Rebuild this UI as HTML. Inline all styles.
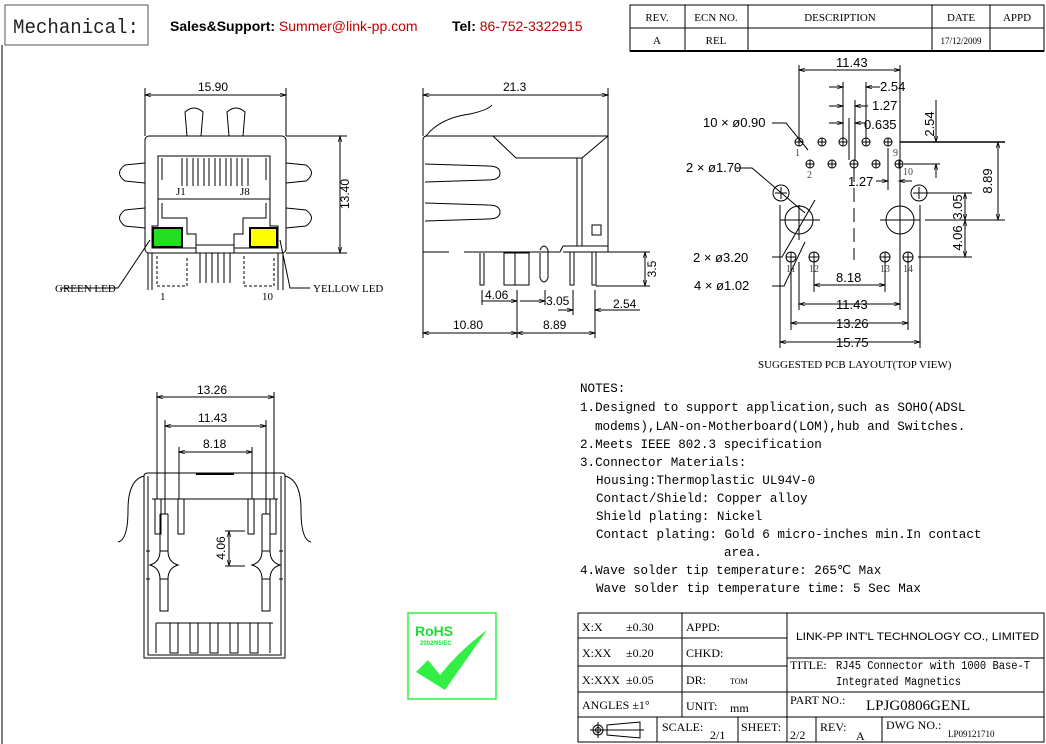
<!DOCTYPE html>
<html><head><meta charset="utf-8"><style>
body{margin:0;background:#fff;width:1046px;height:744px;overflow:hidden}
svg{display:block}
.m{font-family:"Liberation Mono",monospace}
.s{font-family:"Liberation Sans",sans-serif}
.r{font-family:"Liberation Serif",serif}
</style></head><body>
<svg width="1046" height="744" viewBox="0 0 1046 744" xmlns="http://www.w3.org/2000/svg">
<defs>
<marker id="a" viewBox="0 0 10 10" refX="10" refY="5" markerWidth="8" markerHeight="6" orient="auto-start-reverse"><path d="M0,2 L10,5 L0,8" fill="none" stroke="#000" stroke-width="1.2"/></marker>
</defs>
<g fill="none" stroke="#000" stroke-width="1">
<line x1="2" y1="45" x2="2" y2="744"/>
<rect x="5" y="5" width="143" height="40" stroke="#555"/>
<rect x="630" y="5" width="414" height="46"/>
<line x1="630" y1="28" x2="1044" y2="28"/>
<line x1="685" y1="5" x2="685" y2="51"/><line x1="748" y1="5" x2="748" y2="51"/>
<line x1="932" y1="5" x2="932" y2="51"/><line x1="990" y1="5" x2="990" y2="51"/>
<line x1="630" y1="51" x2="1044" y2="51" stroke-width="2"/>
</g>
<text x="13" y="33" class="m" font-size="20" fill="#222" textLength="126" lengthAdjust="spacingAndGlyphs">Mechanical:</text>
<text x="170" y="31" class="s" font-size="14" font-weight="bold">Sales&amp;Support: <tspan font-weight="normal" fill="#c00000">Summer@link-pp.com</tspan></text>
<text x="452" y="31" class="s" font-size="14" font-weight="bold">Tel: <tspan font-weight="normal" fill="#c00000">86-752-3322915</tspan></text>
<g class="r" font-size="11" text-anchor="middle">
<text x="657" y="21">REV.</text><text x="716" y="21">ECN NO.</text><text x="840" y="21">DESCRIPTION</text><text x="961" y="21">DATE</text><text x="1017" y="21">APPD</text>
<text x="657" y="44">A</text><text x="716" y="44">REL</text><text x="961" y="44" font-size="9">17/12/2009</text>
</g>

<!-- FRONT VIEW -->
<g fill="none" stroke="#000" stroke-width="1">
<rect x="145" y="136" width="141" height="117" rx="4"/>
<path d="M187,136 L185,112 Q194,104 203,112 L201,136"/>
<path d="M229,136 L227,112 Q236,104 245,112 L243,136"/>
<path d="M145,163 L125,165 Q114,173 125,181 L145,183"/>
<path d="M145,208 L125,210 Q114,218 125,226 L145,228"/>
<path d="M286,163 L306,165 Q317,173 306,181 L286,183"/>
<path d="M286,208 L306,210 Q317,218 306,226 L286,228"/>
<path d="M158,200 L158,156 L270,156 L270,200"/>
<line x1="158" y1="199" x2="270" y2="199"/>
<line x1="162" y1="158" x2="162" y2="180"/><line x1="266" y1="158" x2="266" y2="180"/>
<path d="M182,158 v28 M187,158 v28 M193,158 v28 M198,158 v28 M204,158 v28 M209,158 v28 M215,158 v28 M220,158 v28 M226,158 v28 M231,158 v28 M237,158 v28 M242,158 v28 M248,158 v28"/>
<path d="M158,200 L158,226 L152,226 L152,248 L196,248 L196,234 L187,234 L187,218 L162,218 L162,203"/>
<path d="M270,200 L270,226 L278,226 L278,248 L234,248 L234,234 L243,234 L243,218 L266,218 L266,203"/>
<path d="M196,248 L196,253 M234,248 L234,253 M196,245 L234,245"/>
<path d="M148,253 L148,290 M283,253 L283,290"/>
<path d="M152,253 L152,290 M278,253 L278,290"/>
<path d="M157,256 v30 h30 v-30 M244,256 v30 h30 v-30" stroke-dasharray="3,2"/>
<path d="M200,253 v30 M206,253 v30 M212,253 v30 M218,253 v30 M224,253 v30 M230,253 v30"/>
<path d="M60,288 h58 L150,240"/><path d="M310,288 h-20 L280,240"/>
<line x1="145" y1="88" x2="145" y2="136"/><line x1="286" y1="88" x2="286" y2="136"/>
<line x1="145" y1="95" x2="286" y2="95" marker-start="url(#a)" marker-end="url(#a)"/>
<line x1="286" y1="136" x2="347" y2="136"/><line x1="286" y1="253" x2="347" y2="253"/>
<line x1="340" y1="136" x2="340" y2="253" marker-start="url(#a)" marker-end="url(#a)"/>
</g>
<rect x="153" y="228" width="29" height="19" fill="#22dd22" stroke="#000" stroke-width="2"/>
<rect x="250" y="228" width="27" height="19" fill="#ffff00" stroke="#000" stroke-width="2"/>
<g class="s" font-size="12"><text x="198" y="91">15.90</text>
<text x="349" y="194" transform="rotate(-90 349 194)" text-anchor="middle">13.40</text></g>
<g class="r" font-size="11"><text x="176" y="195">J1</text><text x="240" y="195">J8</text>
<text x="55" y="292">GREEN LED</text><text x="313" y="292">YELLOW LED</text>
<text x="160" y="300">1</text><text x="262" y="300">10</text></g>

<!-- SIDE VIEW -->
<g fill="none" stroke="#000" stroke-width="1">
<path d="M423,252 L423,140 Q423,136 427,136 L608,136 L608,246 L563,246"/>
<path d="M426,136 Q440,118 470,114 Q488,110 492,105"/>
<path d="M493,136 L516,158 L582,158 L608,136"/>
<path d="M577,158 L577,246 M582,158 L582,246"/>
<rect x="592" y="225" width="9" height="10"/>
<path d="M425,164 L488,166 Q500,166 500,173 Q500,180 488,180 L425,182"/>
<path d="M425,203 L488,205 Q500,205 500,212 Q500,219 488,219 L425,221"/>
<path d="M423,252 L449,252 M464,252 L560,252 L563,246"/>
<path d="M563,246 L608,246 L608,252 L563,252"/>
<path d="M480,253 v32 h4 v-32"/>
<rect x="504" y="253" width="25" height="32"/><line x1="515" y1="253" x2="515" y2="285"/>
<path d="M540,253 v25 q4,8 8,0 v-28 q-4,-8 -8,0"/>
<path d="M570,252 v33 h4 v-33 M592,252 v33 h4 v-33"/>
<line x1="423" y1="88" x2="423" y2="136"/><line x1="608" y1="88" x2="608" y2="136"/>
<line x1="423" y1="95" x2="608" y2="95" marker-start="url(#a)" marker-end="url(#a)"/>
<line x1="608" y1="252" x2="650" y2="252"/><line x1="596" y1="286" x2="650" y2="286"/>
<line x1="645" y1="252" x2="645" y2="286" marker-start="url(#a)" marker-end="url(#a)"/>
<line x1="482" y1="290" x2="482" y2="305"/><line x1="517" y1="290" x2="517" y2="338"/>
<line x1="545" y1="290" x2="545" y2="305"/><line x1="573" y1="290" x2="573" y2="315"/><line x1="595" y1="290" x2="595" y2="338"/>
<line x1="482" y1="301" x2="517" y2="301" marker-end="url(#a)"/>
<line x1="520" y1="301" x2="545" y2="301" marker-end="url(#a)"/>
<line x1="558" y1="310" x2="573" y2="310" marker-end="url(#a)"/>
<line x1="640" y1="310" x2="595" y2="310" marker-end="url(#a)"/>
<line x1="423" y1="252" x2="423" y2="338"/>
<line x1="423" y1="333" x2="517" y2="333" marker-start="url(#a)" marker-end="url(#a)"/>
<line x1="517" y1="333" x2="595" y2="333" marker-start="url(#a)" marker-end="url(#a)"/>
</g>
<g class="s" font-size="12"><text x="503" y="91">21.3</text>
<text x="656" y="269" transform="rotate(-90 656 269)" text-anchor="middle">3.5</text>
<text x="485" y="299">4.06</text><text x="546" y="305">3.05</text><text x="613" y="308">2.54</text>
<text x="453" y="329">10.80</text><text x="543" y="329">8.89</text></g>

<!-- PCB LAYOUT -->
<g fill="none" stroke="#000" stroke-width="1">
<circle cx="799" cy="142" r="4"/><circle cx="822" cy="142" r="4"/><circle cx="843" cy="142" r="4"/><circle cx="866" cy="142" r="4"/><circle cx="888" cy="142" r="4"/>
<circle cx="810" cy="164" r="4"/><circle cx="832" cy="164" r="4"/><circle cx="854" cy="164" r="4"/><circle cx="876" cy="164" r="4"/><circle cx="899" cy="164" r="4"/>
<circle cx="791" cy="257" r="5"/><circle cx="814" cy="257" r="5"/><circle cx="885" cy="257" r="5"/><circle cx="908" cy="257" r="5"/>
<circle cx="781" cy="193" r="8"/><circle cx="919" cy="193" r="8"/>
<circle cx="799" cy="220" r="14"/><circle cx="900" cy="220" r="14"/>
<path d="M795,142h8M799,138v8M818,142h8M822,138v8M839,142h8M843,138v8M862,142h8M866,138v8M884,142h8M888,138v8M806,164h8M810,160v8M828,164h8M832,160v8M850,164h8M854,160v8M872,164h8M876,160v8M895,164h8M899,160v8M786,257h10M791,252v10M809,257h10M814,252v10M880,257h10M885,252v10M903,257h10M908,252v10"/>
<path d="M775,193h12M781,187v12M913,193h12M919,187v12"/>
<path d="M780,220h40M799,205v35M880,220h40M900,200v40"/>
<line x1="799" y1="65" x2="799" y2="138"/><line x1="900" y1="65" x2="900" y2="210"/>
<line x1="799" y1="70" x2="900" y2="70" marker-start="url(#a)" marker-end="url(#a)"/>
<line x1="843" y1="82" x2="843" y2="138"/><line x1="866" y1="82" x2="866" y2="138"/>
<line x1="829" y1="87" x2="843" y2="87" marker-end="url(#a)"/><line x1="880" y1="87" x2="866" y2="87" marker-end="url(#a)"/>
<line x1="855" y1="100" x2="855" y2="160"/>
<line x1="829" y1="106" x2="843" y2="106" marker-end="url(#a)"/><line x1="868" y1="106" x2="855" y2="106" marker-end="url(#a)"/>
<line x1="849" y1="118" x2="849" y2="160"/>
<line x1="829" y1="123" x2="843" y2="123" marker-end="url(#a)"/><line x1="866" y1="123" x2="855" y2="123" marker-end="url(#a)"/>
<line x1="854" y1="168" x2="854" y2="260" stroke-dasharray="14,6"/>
<line x1="888" y1="148" x2="888" y2="190"/>
<line x1="876" y1="181" x2="888" y2="181" marker-end="url(#a)"/><line x1="912" y1="181" x2="899" y2="181" marker-end="url(#a)"/>
<line x1="900" y1="142" x2="1005" y2="142" stroke-width="1.5"/><line x1="904" y1="164" x2="940" y2="164"/>
<line x1="936" y1="100" x2="936" y2="142" marker-end="url(#a)"/><line x1="936" y1="178" x2="936" y2="164" marker-end="url(#a)"/>
<line x1="925" y1="193" x2="972" y2="193"/><line x1="925" y1="220" x2="1005" y2="220"/><line x1="918" y1="257" x2="972" y2="257"/>
<line x1="998" y1="142" x2="998" y2="220" marker-start="url(#a)" marker-end="url(#a)"/>
<line x1="965" y1="193" x2="965" y2="220" marker-start="url(#a)" marker-end="url(#a)"/>
<line x1="965" y1="220" x2="965" y2="257" marker-start="url(#a)" marker-end="url(#a)"/>
<path d="M772,123h14L808,150M736,168h16L805,213M772,257h10L815,200M772,286h12L805,242"/>
<line x1="780" y1="205" x2="780" y2="348"/><line x1="920" y1="205" x2="920" y2="348"/>
<line x1="791" y1="262" x2="791" y2="330"/><line x1="908" y1="262" x2="908" y2="330"/>
<line x1="799" y1="262" x2="799" y2="310"/><line x1="900" y1="230" x2="900" y2="310"/>
<line x1="814" y1="262" x2="814" y2="292"/><line x1="885" y1="262" x2="885" y2="292"/>
<line x1="814" y1="285" x2="885" y2="285" marker-start="url(#a)" marker-end="url(#a)"/>
<line x1="799" y1="304" x2="900" y2="304" marker-start="url(#a)" marker-end="url(#a)"/>
<line x1="791" y1="323" x2="908" y2="323" marker-start="url(#a)" marker-end="url(#a)"/>
<line x1="780" y1="342" x2="920" y2="342" marker-start="url(#a)" marker-end="url(#a)"/>
</g>
<g class="s" font-size="13">
<text x="836" y="67">11.43</text><text x="880" y="91">2.54</text><text x="872" y="110">1.27</text><text x="864" y="129">0.635</text>
<text x="934" y="124" transform="rotate(-90 934 124)" text-anchor="middle">2.54</text>
<text x="703" y="127">10 × ø0.90</text><text x="686" y="172">2 × ø1.70</text>
<text x="848" y="186">1.27</text>
<text x="1000" y="181" transform="rotate(-90 1000 181) translate(0 -8)" text-anchor="middle">8.89</text>
<text x="962" y="207" transform="rotate(-90 962 207)" text-anchor="middle">3.05</text>
<text x="962" y="238" transform="rotate(-90 962 238)" text-anchor="middle">4.06</text>
<text x="693" y="262">2 × ø3.20</text><text x="694" y="290">4 × ø1.02</text>
<text x="836" y="282">8.18</text><text x="836" y="309">11.43</text><text x="836" y="328">13.26</text><text x="836" y="347">15.75</text>
</g>
<g class="r" font-size="10" fill="#444"><text x="795" y="156">1</text><text x="807" y="178">2</text><text x="893" y="156">9</text><text x="903" y="175">10</text>
<text x="786" y="272">11</text><text x="809" y="272">12</text><text x="880" y="272">13</text><text x="903" y="272">14</text>
<text x="758" y="368" font-size="11" fill="#000">SUGGESTED PCB LAYOUT(TOP VIEW)</text></g>

<!-- BOTTOM VIEW -->
<g fill="none" stroke="#000" stroke-width="1">
<path d="M144,658 L144,476 Q144,473 148,473 L282,473 Q285,473 285,476 L285,658 Z"/>
<path d="M148,476 V655 H281 V476"/>
<line x1="152" y1="499" x2="278" y2="499"/><line x1="196" y1="474" x2="234" y2="474" stroke-width="2"/>
<path d="M144,476 Q128,480 128,510 Q128,540 118,542 M285,476 Q301,480 301,510 Q301,540 311,542"/>
<path d="M155,499 v35 h6 v-35 M178,499 v35 h6 v-35 M248,499 v35 h6 v-35 M270,499 v35 h6 v-35"/>
<path d="M160,514 v37 M168,514 v37 M160,579 v32 h8 v-32 M160,514 h8 M262,514 v37 M270,514 v37 M262,579 v32 h8 v-32 M262,514 h8"/>
<path d="M150,565 Q160,562 160,551 L168,551 Q168,562 178,565 Q168,568 168,579 L160,579 Q160,568 150,565 Z"/>
<path d="M252,565 Q262,562 262,551 L270,551 Q270,562 280,565 Q270,568 270,579 L262,579 Q262,568 252,565 Z"/>
<path d="M146,551 h4 M146,579 h4 M283,551 h-4 M283,579 h-4"/>
<path d="M156,623 v30 M170,623 v30 h8 v-30 h12 v30 h8 v-30 h12 v30 h8 v-30 h12 v30 h8 v-30 h12 v30 h8 v-30 h12 v30"/>
<line x1="156" y1="623" x2="273" y2="623"/>
<line x1="157" y1="392" x2="157" y2="499"/><line x1="274" y1="392" x2="274" y2="499"/>
<line x1="165" y1="420" x2="165" y2="514"/><line x1="266" y1="420" x2="266" y2="514"/>
<line x1="179" y1="447" x2="179" y2="499"/><line x1="252" y1="447" x2="252" y2="499"/>
<line x1="157" y1="397" x2="274" y2="397" marker-start="url(#a)" marker-end="url(#a)"/>
<line x1="165" y1="426" x2="266" y2="426" marker-start="url(#a)" marker-end="url(#a)"/>
<line x1="179" y1="452" x2="252" y2="452" marker-start="url(#a)" marker-end="url(#a)"/>
<line x1="225" y1="531" x2="245" y2="531"/><line x1="225" y1="566" x2="245" y2="566"/>
<line x1="229" y1="531" x2="229" y2="566" marker-start="url(#a)" marker-end="url(#a)"/>
</g>
<g class="s" font-size="12"><text x="197" y="394">13.26</text><text x="198" y="422">11.43</text><text x="203" y="448">8.18</text>
<text x="225" y="548" transform="rotate(-90 225 548)" text-anchor="middle">4.06</text></g>

<!-- NOTES -->
<g class="m" font-size="12.6">
<text x="580" y="392">NOTES:</text>
<text x="580" y="411">1.Designed to support application,such as SOHO(ADSL</text>
<text x="595" y="430">modems),LAN-on-Motherboard(LOM),hub and Switches.</text>
<text x="580" y="448">2.Meets IEEE 802.3 specification</text>
<text x="580" y="466">3.Connector Materials:</text>
<text x="596" y="484">Housing:Thermoplastic UL94V-0</text>
<text x="596" y="502">Contact/Shield: Copper alloy</text>
<text x="596" y="520">Shield plating: Nickel</text>
<text x="596" y="538">Contact plating: Gold 6 micro-inches min.In contact</text>
<text x="724" y="556">area.</text>
<text x="580" y="574">4.Wave solder tip temperature: 265℃ Max</text>
<text x="596" y="592">Wave solder tip temperature time: 5 Sec Max</text>
</g>

<!-- RoHS -->
<rect x="408" y="613" width="88" height="86" fill="none" stroke="#33ee44" stroke-width="1.5"/>
<text x="415" y="636" class="s" font-size="14" font-weight="bold" fill="#22dd33">RoHS</text>
<text x="420" y="645" class="s" font-size="6" font-weight="bold" fill="#22dd33">2002/95/EC</text>
<path d="M416,672 L428,660 L440,675 Q460,650 487,630 Q466,660 445,690 Z" fill="#33ee44"/>

<!-- TITLE BLOCK -->
<g fill="none" stroke="#000" stroke-width="1">
<rect x="578" y="613" width="466" height="129"/>
<line x1="578" y1="638" x2="787" y2="638"/><line x1="578" y1="666" x2="787" y2="666"/>
<line x1="787" y1="658" x2="1044" y2="658"/>
<line x1="578" y1="692" x2="1044" y2="692"/><line x1="578" y1="717" x2="1044" y2="717"/>
<line x1="682" y1="613" x2="682" y2="717"/><line x1="787" y1="613" x2="787" y2="742"/>
<line x1="657" y1="717" x2="657" y2="742"/><line x1="738" y1="717" x2="738" y2="742"/><line x1="816" y1="717" x2="816" y2="742"/><line x1="882" y1="717" x2="882" y2="742"/>
<circle cx="598" cy="730" r="5"/><circle cx="598" cy="730" r="2.5"/><path d="M590,730h16M598,722v16"/>
<path d="M607,725 L640,722 L640,738 L607,735 Z M604,730 h40"/>
</g>
<g class="r" font-size="12">
<text x="582" y="631">X:X</text><text x="626" y="631">±0.30</text>
<text x="582" y="657">X:XX</text><text x="626" y="657">±0.20</text>
<text x="582" y="684">X:XXX</text><text x="626" y="684">±0.05</text>
<text x="582" y="709">ANGLES ±1°</text>
<text x="686" y="631">APPD:</text><text x="686" y="657">CHKD:</text><text x="686" y="684">DR:</text><text x="730" y="684" font-size="8">TOM</text>
<text x="686" y="710">UNIT:</text><text x="730" y="712">mm</text>
<text x="662" y="731">SCALE:</text><text x="710" y="739">2/1</text>
<text x="741" y="731">SHEET:</text><text x="790" y="739">2/2</text>
<text x="820" y="731">REV:</text><text x="856" y="740">A</text>
<text x="886" y="729">DWG NO.:</text><text x="948" y="737" font-size="9">LP09121710</text>
<text x="790" y="669">TITLE:</text>
<text x="836" y="669" class="m" font-size="11.5" textLength="194" lengthAdjust="spacingAndGlyphs">RJ45 Connector with 1000 Base-T</text>
<text x="836" y="685" class="m" font-size="11.5" textLength="125" lengthAdjust="spacingAndGlyphs">Integrated Magnetics</text>
<text x="790" y="704">PART NO.:</text><text x="866" y="710" font-size="15">LPJG0806GENL</text>
</g>
<text x="796" y="640" class="s" font-size="11" textLength="243" lengthAdjust="spacingAndGlyphs">LINK-PP INT'L TECHNOLOGY CO., LIMITED</text>
</svg>
</body></html>
